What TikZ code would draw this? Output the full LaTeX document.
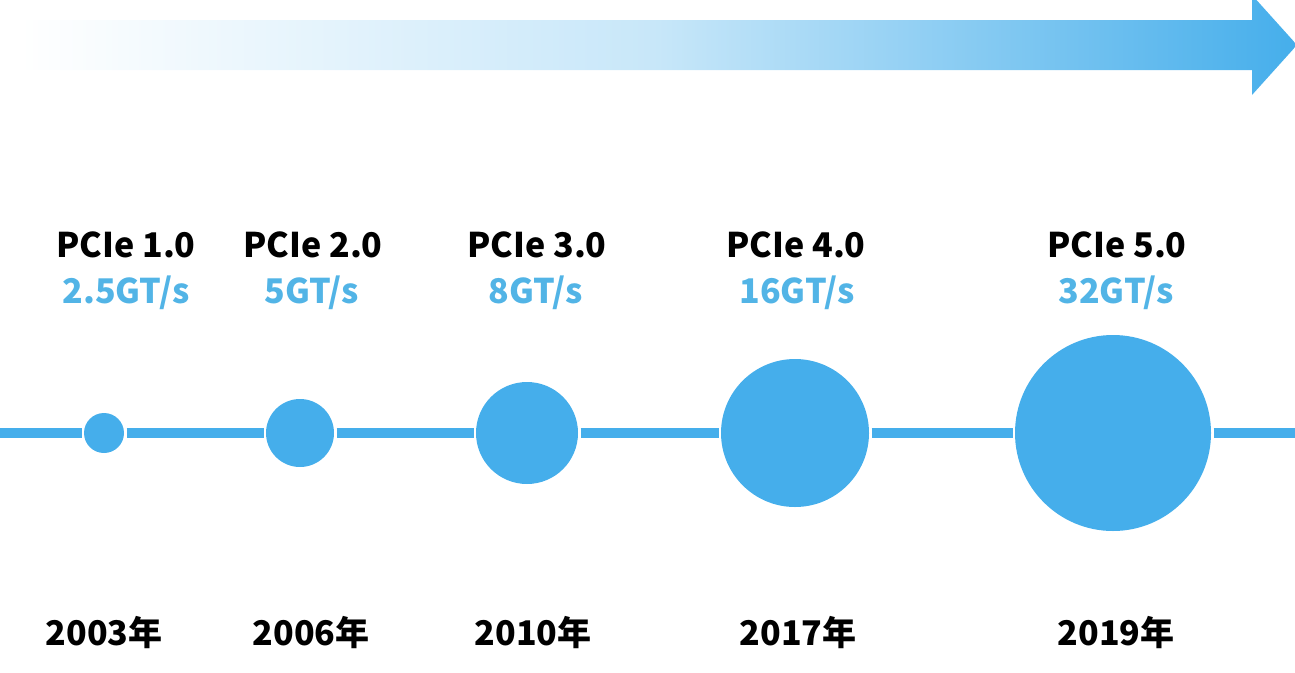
\documentclass[tikz,border=0pt]{standalone}
\usepackage{fontspec}
\newfontfamily\cjk{Noto Sans CJK SC}
\definecolor{pcieblue}{HTML}{45AEEB}
\definecolor{rateblue}{HTML}{52B4E6}
\begin{document}
\begin{tikzpicture}[x=1pt,y=-1pt,
        gen/.style={font=\cjk\bfseries\fontsize{34}{36}\selectfont, text=black, inner sep=0pt, anchor=base},
        rate/.style={gen, text=rateblue},
        dot/.style={shape=circle, fill=pcieblue, inner sep=0pt, outer sep=2.5pt},
        link/.style={draw=pcieblue, line width=10pt}]
        \useasboundingbox (0,0) rectangle (1295,672);

        % time arrow
        \shade[left color=white, right color=pcieblue, middle color=pcieblue!30]
            (20,20) -- (1252,20) -- (1252,-5) -- (1297,45) -- (1252,95) -- (1252,70) -- (20,70) -- cycle;

        % generations
        \node[dot, minimum size=40pt] (v1) at (104,433) {};
        \node[dot, minimum size=68pt] (v2) at (300,433) {};
        \node[dot, minimum size=102pt] (v3) at (527,433) {};
        \node[dot, minimum size=148pt] (v4) at (795,433) {};
        \node[dot, minimum size=196pt] (v5) at (1113,433) {};

        \coordinate (start) at (0,433);
        \coordinate (end) at (1295,433);

        \path [link] (start) -- (v1);
        \path [link] (v1) -- (v2);
        \path [link] (v2) -- (v3);
        \path [link] (v3) -- (v4);
        \path [link] (v4) -- (v5);
        \path [link] (v5) -- (end);

        % names and rates
        \node[gen] (n1) at (126,257) {PCIe 1.0};
        \node[gen] (n2) at (313,257) {PCIe 2.0};
        \node[gen] (n3) at (537,257) {PCIe 3.0};
        \node[gen] (n4) at (796,257) {PCIe 4.0};
        \node[gen] (n5) at (1117,257) {PCIe 5.0};

        \node[rate] (r1) at (126,303) {2.5GT/s};
        \node[rate] (r2) at (312,303) {5GT/s};
        \node[rate] (r3) at (536,303) {8GT/s};
        \node[rate] (r4) at (797,303) {16GT/s};
        \node[rate] (r5) at (1116,303) {32GT/s};

        % years
        \node[gen] (y1) at (104,645) {2003年};
        \node[gen] (y2) at (311,645) {2006年};
        \node[gen] (y3) at (533,645) {2010年};
        \node[gen] (y4) at (798,645) {2017年};
        \node[gen] (y5) at (1116,645) {2019年};
    \end{tikzpicture}
\end{document}
